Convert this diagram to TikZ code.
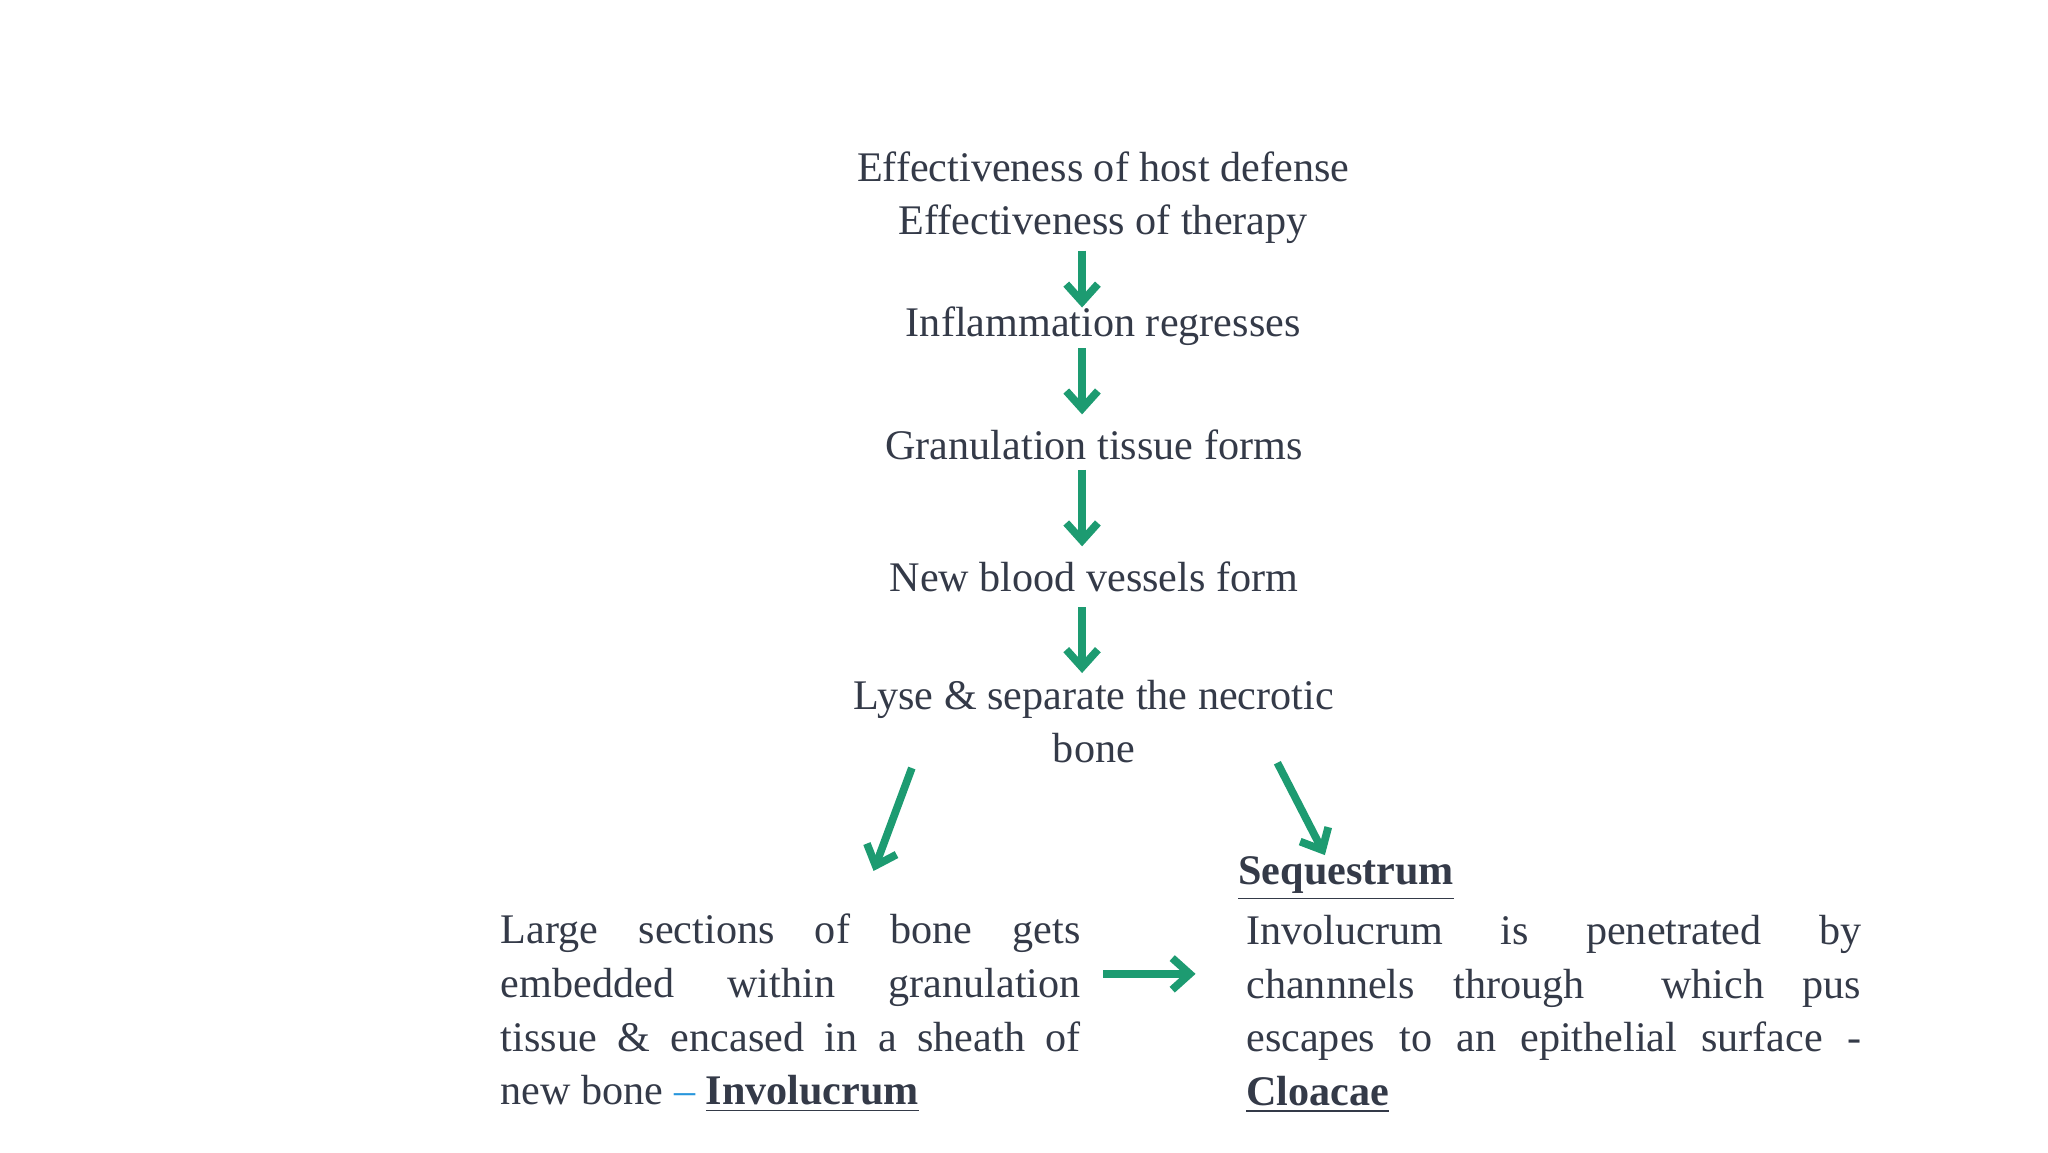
\documentclass[tikz,border=0pt]{standalone}
\usepackage{fontspec}
\setmainfont{Liberation Serif}
\usetikzlibrary{arrows.meta}
\definecolor{grn}{RGB}{29,155,113}
\definecolor{txt}{RGB}{52,58,72}
\definecolor{blu}{RGB}{40,150,220}
\begin{document}
\begin{tikzpicture}[x=0.0132cm,y=-0.0132cm,
  t/.style={text=txt,font=\fontsize{12}{15}\selectfont,align=center,inner sep=0},
  p/.style={text=txt,font=\fontsize{12}{15.3}\selectfont,align=justify,inner sep=0,anchor=north west},
  ar/.style={draw=grn,line width=2.2pt,-{Straight Barb[length=5pt,width=9pt,line width=2.2pt]}}]
\useasboundingbox (0,0) rectangle (1552,873);
\node[t] (a) at (836,150) {Effectiveness of host defense\\Effectiveness of therapy};
\node[t] (b) at (836,247) {Inflammation regresses};
\node[t] (c) at (829,337) {Granulation tissue forms};
\node[t] (d) at (829,437) {New blood vessels form};
\node[t] (e) at (829,547) {Lyse \& separate the necrotic\\bone};
\node[t,anchor=west] (s) at (938,666) {\textbf{\underline{Sequestrum}}};
\node[p,text width=5.8cm] (l) at (379,692) {Large sections of bone gets\linebreak embedded within granulation\linebreak tissue \& encased in a sheath of\linebreak new bone {\color{blu}–} \textbf{\underline{Involucrum}}};
\node[p,text width=6.15cm] (r) at (944,693) {Involucrum is penetrated by\linebreak channnels through \ which pus\linebreak escapes to an epithelial surface -\linebreak \textbf{\underline{Cloacae}}};
\coordinate (a1) at (820,190); \coordinate (a2) at (820,233);
\coordinate (b1) at (820,264); \coordinate (b2) at (820,314);
\coordinate (c1) at (820,356); \coordinate (c2) at (820,414);
\coordinate (d1) at (820,460); \coordinate (d2) at (820,510);
\coordinate (e1) at (691,582); \coordinate (e2) at (662,660);
\coordinate (f1) at (968,578); \coordinate (f2) at (1004,648);
\coordinate (g1) at (836,738); \coordinate (g2) at (906,738);
\draw[ar] (a1) -- (a2);
\draw[ar] (b1) -- (b2);
\draw[ar] (c1) -- (c2);
\draw[ar] (d1) -- (d2);
\draw[ar] (e1) -- (e2);
\draw[ar] (f1) -- (f2);
\draw[ar] (g1) -- (g2);
\end{tikzpicture}
\end{document}
